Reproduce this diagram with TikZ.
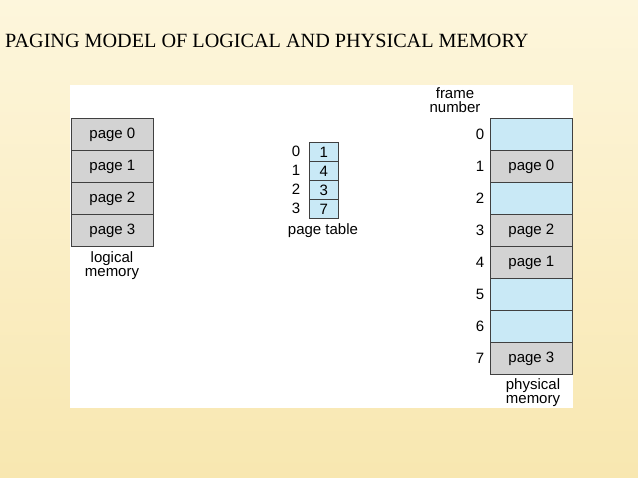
\documentclass[tikz,border=0pt]{standalone}
\usepackage{fontspec}
\setmainfont{Liberation Sans}
\newfontfamily\titlefont{Liberation Serif}
\definecolor{bgy}{HTML}{F8E7B0}
\definecolor{bgl}{HTML}{FDF6DC}
\definecolor{gr}{HTML}{D3D3D3}
\definecolor{bl}{HTML}{C9E9F6}
\begin{document}
\begin{tikzpicture}[x=1pt,y=-1pt,
  cell/.style={draw=black!75,line width=0.8pt,minimum width=82pt,minimum height=32pt,inner sep=0pt,font=\fontsize{15}{16}\selectfont,anchor=north west},
  pcell/.style={draw=black!75,line width=0.8pt,fill=bl,minimum width=29pt,minimum height=19pt,inner sep=0pt,font=\fontsize{15}{16}\selectfont,anchor=north west},
  lbl/.style={font=\fontsize{15}{14}\selectfont,inner sep=0pt,align=center}]
\useasboundingbox (0,0) rectangle (638,478);
\shade[top color=bgl,bottom color=bgy] (0,0) rectangle (638,478);
\fill[white] (70,85) rectangle (573,408);
\node[anchor=west,inner sep=0pt,font=\titlefont\fontsize{20.2}{21}\selectfont] (title) at (5,41) {PAGING MODEL OF LOGICAL AND PHYSICAL MEMORY};
% logical memory
\foreach \i in {0,...,3}{
  \node[cell,fill=gr] (l\i) at (71,{118+32*\i}) {page \i};
}
\node[lbl] (llab) at (112,266) {logical\\memory};
% page table
\foreach \i/\v in {0/1,1/4,2/3,3/7}{
  \node[pcell] (p\i) at (309,{142+19*\i}) {\v};
  \node[lbl] (pi\i) at (296,{151.5+19*\i}) {\i};
}
\node[lbl] (plab) at (323,231) {page table};
% physical memory
\foreach \i/\t/\c in {0//bl,1/page 0/gr,2//bl,3/page 2/gr,4/page 1/gr,5//bl,6//bl,7/page 3/gr}{
  \node[cell,fill=\c] (f\i) at (490,{118+32*\i}) {\t};
  \node[lbl] (fn\i) at (480,{134+32*\i}) {\i};
}
\node[lbl] (flab) at (455,100) {frame\\number};
\node[lbl] (phlab) at (533,393) {physical\\memory};
\end{tikzpicture}
\end{document}
